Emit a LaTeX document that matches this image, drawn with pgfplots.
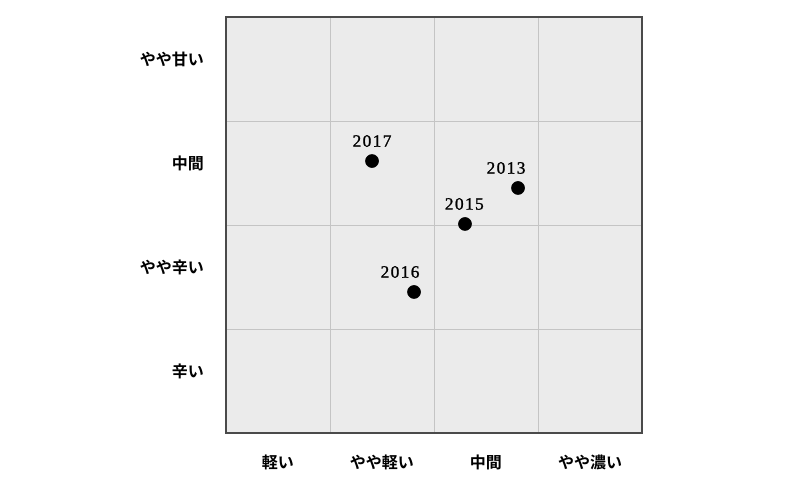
\documentclass[border=0pt]{standalone}
\usepackage{fontspec}
\usepackage{pgfplots}
\pgfplotsset{compat=1.18}
\setmainfont{Liberation Serif}
\newfontfamily\jp{Noto Sans CJK JP}[BoldFont={* Bold}]
\newfontfamily\yr{Liberation Serif}[LetterSpace=8,FakeBold=1.2]
\definecolor{bg}{HTML}{EBEBEB}
\definecolor{gridc}{HTML}{C4C4C4}
\definecolor{frame}{HTML}{4A4A4A}
\begin{document}
\begin{tikzpicture}
\begin{axis}[
  name=ax,
  width=312pt, height=312pt, scale only axis,
  xmin=0, xmax=4, ymin=0, ymax=4,
  axis background/.style={fill=bg},
  axis line style={draw=frame, line width=1.1pt},
  xtick={0.5,1.5,2.5,3.5},
  xticklabels={軽い,やや軽い,中間,やや濃い},
  ytick={0.5,1.5,2.5,3.5},
  yticklabels={辛い,やや辛い,中間,やや甘い},
  minor xtick={1,2,3}, minor ytick={1,2,3},
  xminorgrids=true, yminorgrids=true,
  minor grid style={draw=gridc, line width=0.6pt},
  major tick length=0pt, minor tick length=0pt,
  tick label style={font=\jp\bfseries\fontsize{12}{14}\selectfont},
  xticklabel style={yshift=-13pt},
  yticklabel style={xshift=-13pt, yshift=7pt},
  clip=false,
]
\addplot[only marks, mark=*, mark size=4.9pt, black,
  visualization depends on={\thisrow{dx}\as\dx},
  point meta=explicit symbolic,
  nodes near coords,
  nodes near coords style={anchor=center, yshift=15pt, xshift=\dx pt,
    font=\yr\fontsize{13}{15}\selectfont, text=black}]
table[meta=label] {
x     y     dx    label
1.404 2.615 0     2017
2.808 2.356 -9    2013
2.298 2.010 -0.5  2015
1.808 1.356 -10.5 2016
};
\end{axis}
\path[use as bounding box] ([xshift=-169.5pt,yshift=-39.75pt]ax.south west)
  rectangle ([xshift=108pt,yshift=12.75pt]ax.north east);
\end{tikzpicture}
\end{document}
